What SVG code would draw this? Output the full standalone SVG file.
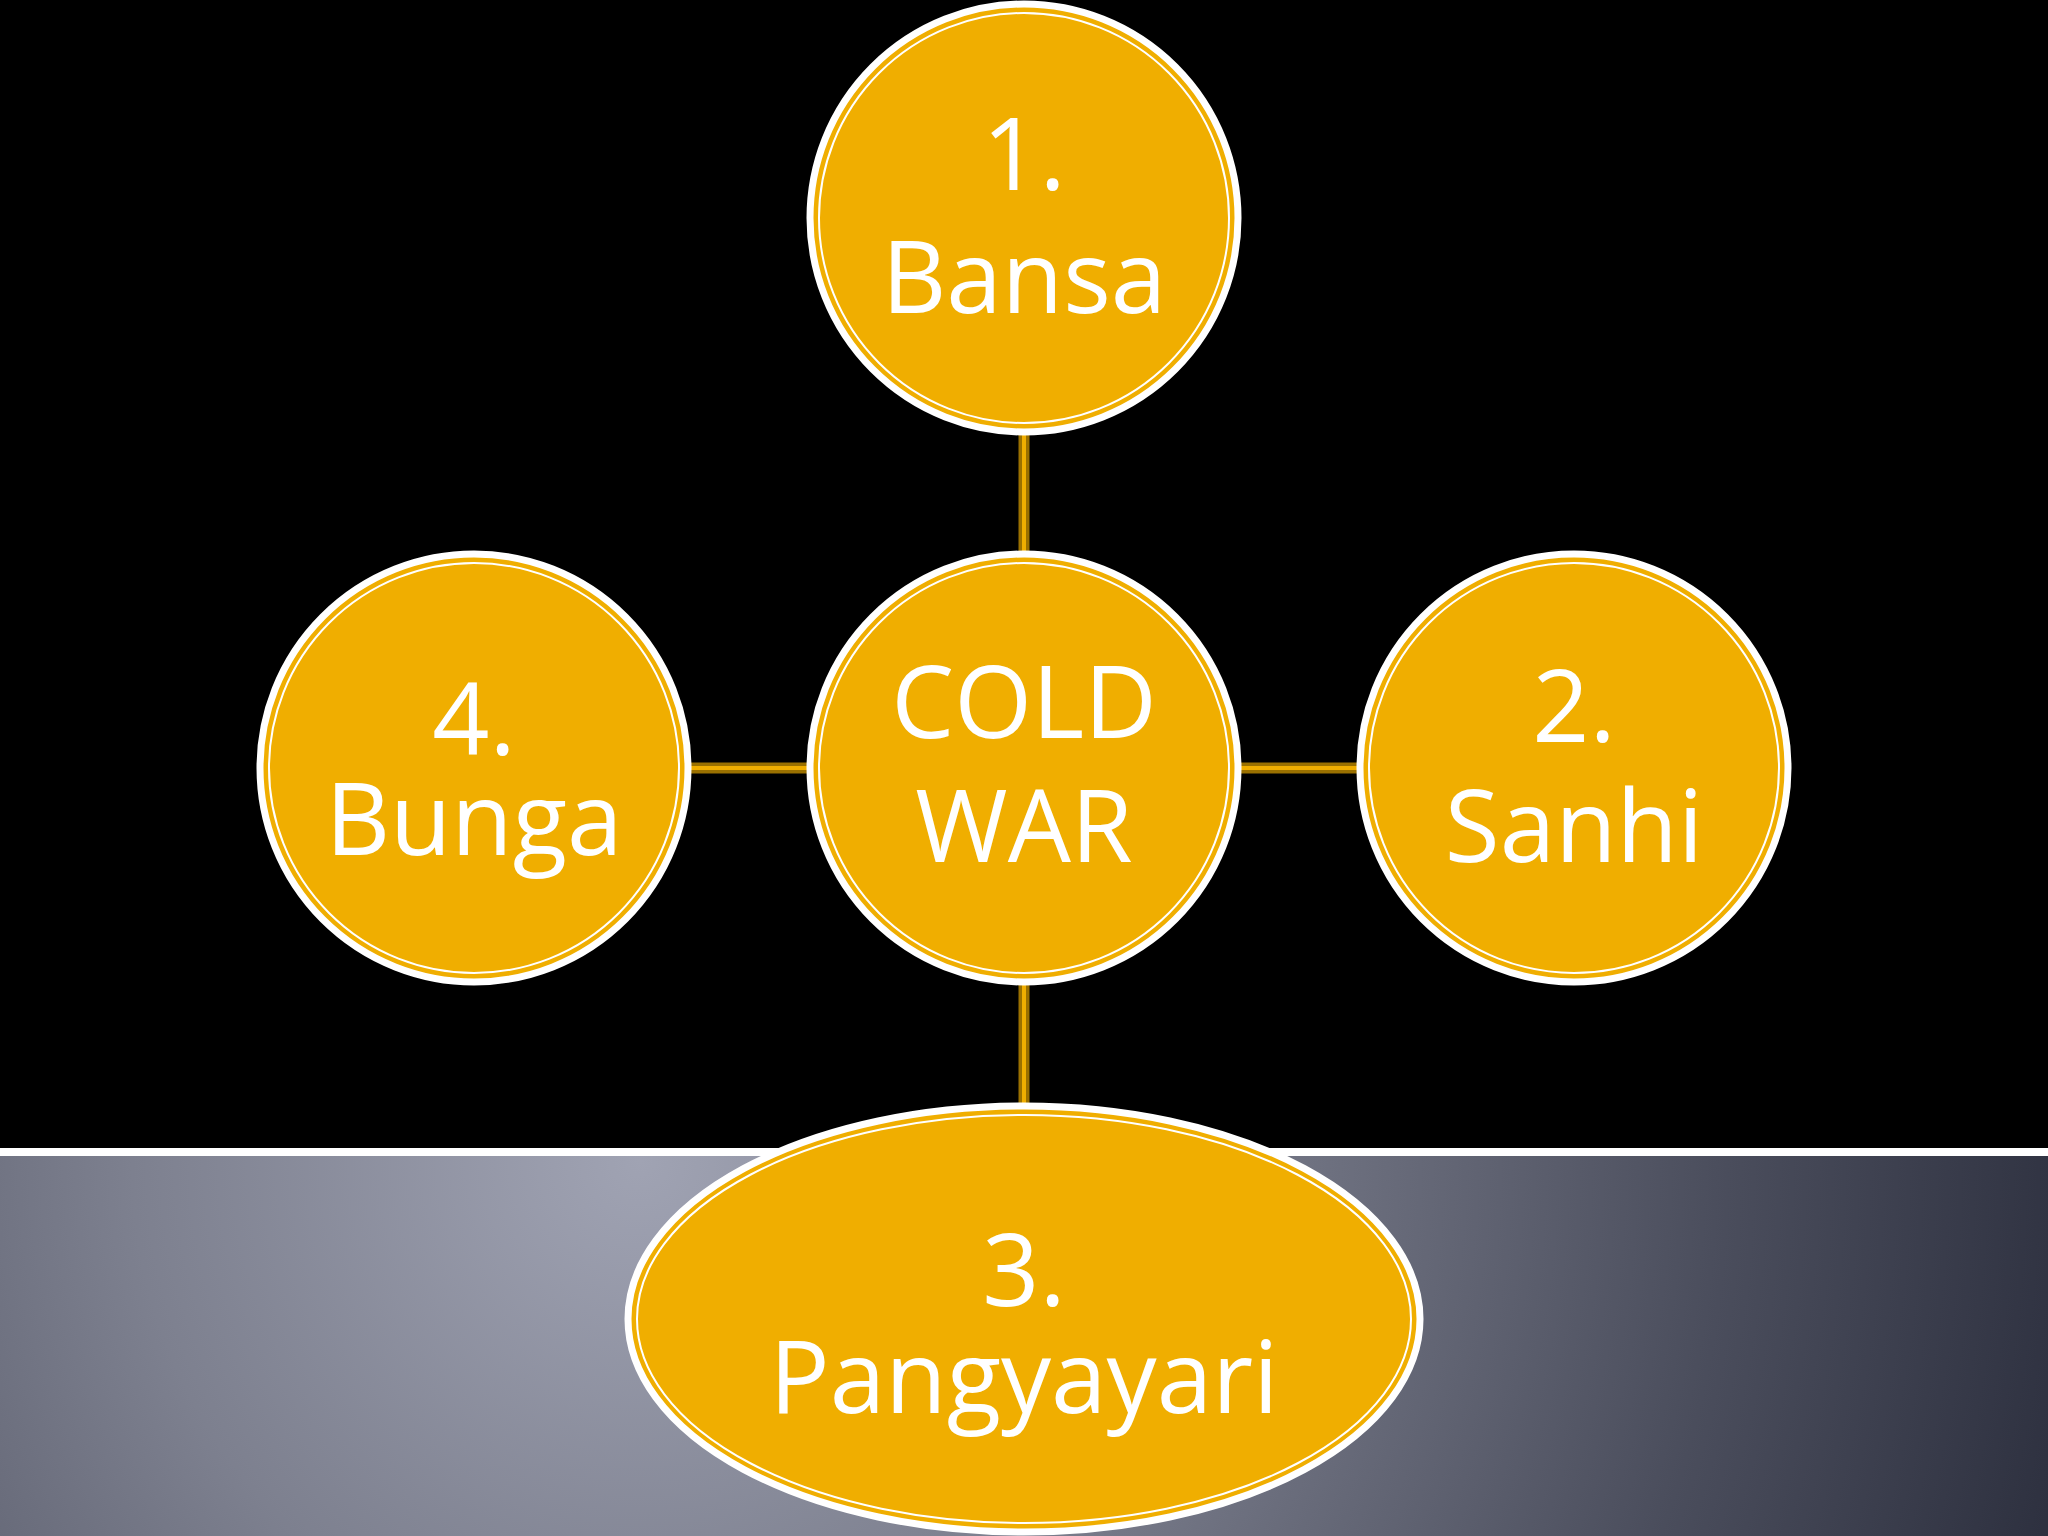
<svg xmlns="http://www.w3.org/2000/svg" width="2048" height="1536" viewBox="0 0 2048 1536">
<defs>
<radialGradient id="bg" cx="640" cy="1160" r="1450" gradientUnits="userSpaceOnUse">
<stop offset="0" stop-color="#a0a3b3"/><stop offset="0.35" stop-color="#7d808f"/><stop offset="0.75" stop-color="#4a4d5c"/><stop offset="1" stop-color="#2e3140"/>
</radialGradient>
<style>
.n{fill:#F0AE00;stroke:#fff;stroke-width:7}
.r{fill:none;stroke:#fff;stroke-width:2}
.t{fill:#fff;font-family:"Open Sans","DejaVu Sans",sans-serif;font-size:100px;text-anchor:middle}
.c1{stroke:#9a7000;stroke-width:11}
.c2{stroke:#F0AE00;stroke-width:4}
</style>
</defs>
<rect width="2048" height="1536" fill="#000"/>
<rect y="1155" width="2048" height="381" fill="url(#bg)"/>
<rect y="1148" width="2048" height="8" fill="#fff"/>
<g id="connectors">
<line class="c1" x1="1024" y1="432" x2="1024" y2="558"/><line class="c2" x1="1024" y1="432" x2="1024" y2="558"/>
<line class="c1" x1="1024" y1="978" x2="1024" y2="1110"/><line class="c2" x1="1024" y1="978" x2="1024" y2="1110"/>
<line class="c1" x1="688" y1="768" x2="814" y2="768"/><line class="c2" x1="688" y1="768" x2="814" y2="768"/>
<line class="c1" x1="1234" y1="768" x2="1362" y2="768"/><line class="c2" x1="1234" y1="768" x2="1362" y2="768"/>
</g>
<g id="top"><circle class="n" cx="1024" cy="218" r="214"/><circle class="r" cx="1024" cy="218" r="205"/>
<text class="t" x="1024" y="190">1.</text><text class="t" x="1024" y="313">Bansa</text></g>
<g id="center"><circle class="n" cx="1024" cy="768" r="214"/><circle class="r" cx="1024" cy="768" r="205"/>
<text class="t" x="1024" y="738">COLD</text><text class="t" x="1024" y="862">WAR</text></g>
<g id="left"><circle class="n" cx="474" cy="768" r="214"/><circle class="r" cx="474" cy="768" r="205"/>
<text class="t" x="474" y="755">4.</text><text class="t" x="474" y="855">Bunga</text></g>
<g id="right"><circle class="n" cx="1574" cy="768" r="214"/><circle class="r" cx="1574" cy="768" r="205"/>
<text class="t" x="1574" y="742">2.</text><text class="t" x="1574" y="862">Sanhi</text></g>
<g id="bottom"><ellipse class="n" cx="1024" cy="1319" rx="396" ry="213"/><ellipse class="r" cx="1024" cy="1319" rx="387" ry="204"/>
<text class="t" x="1024" y="1306">3.</text><text class="t" x="1024" y="1413">Pangyayari</text></g>
</svg>
